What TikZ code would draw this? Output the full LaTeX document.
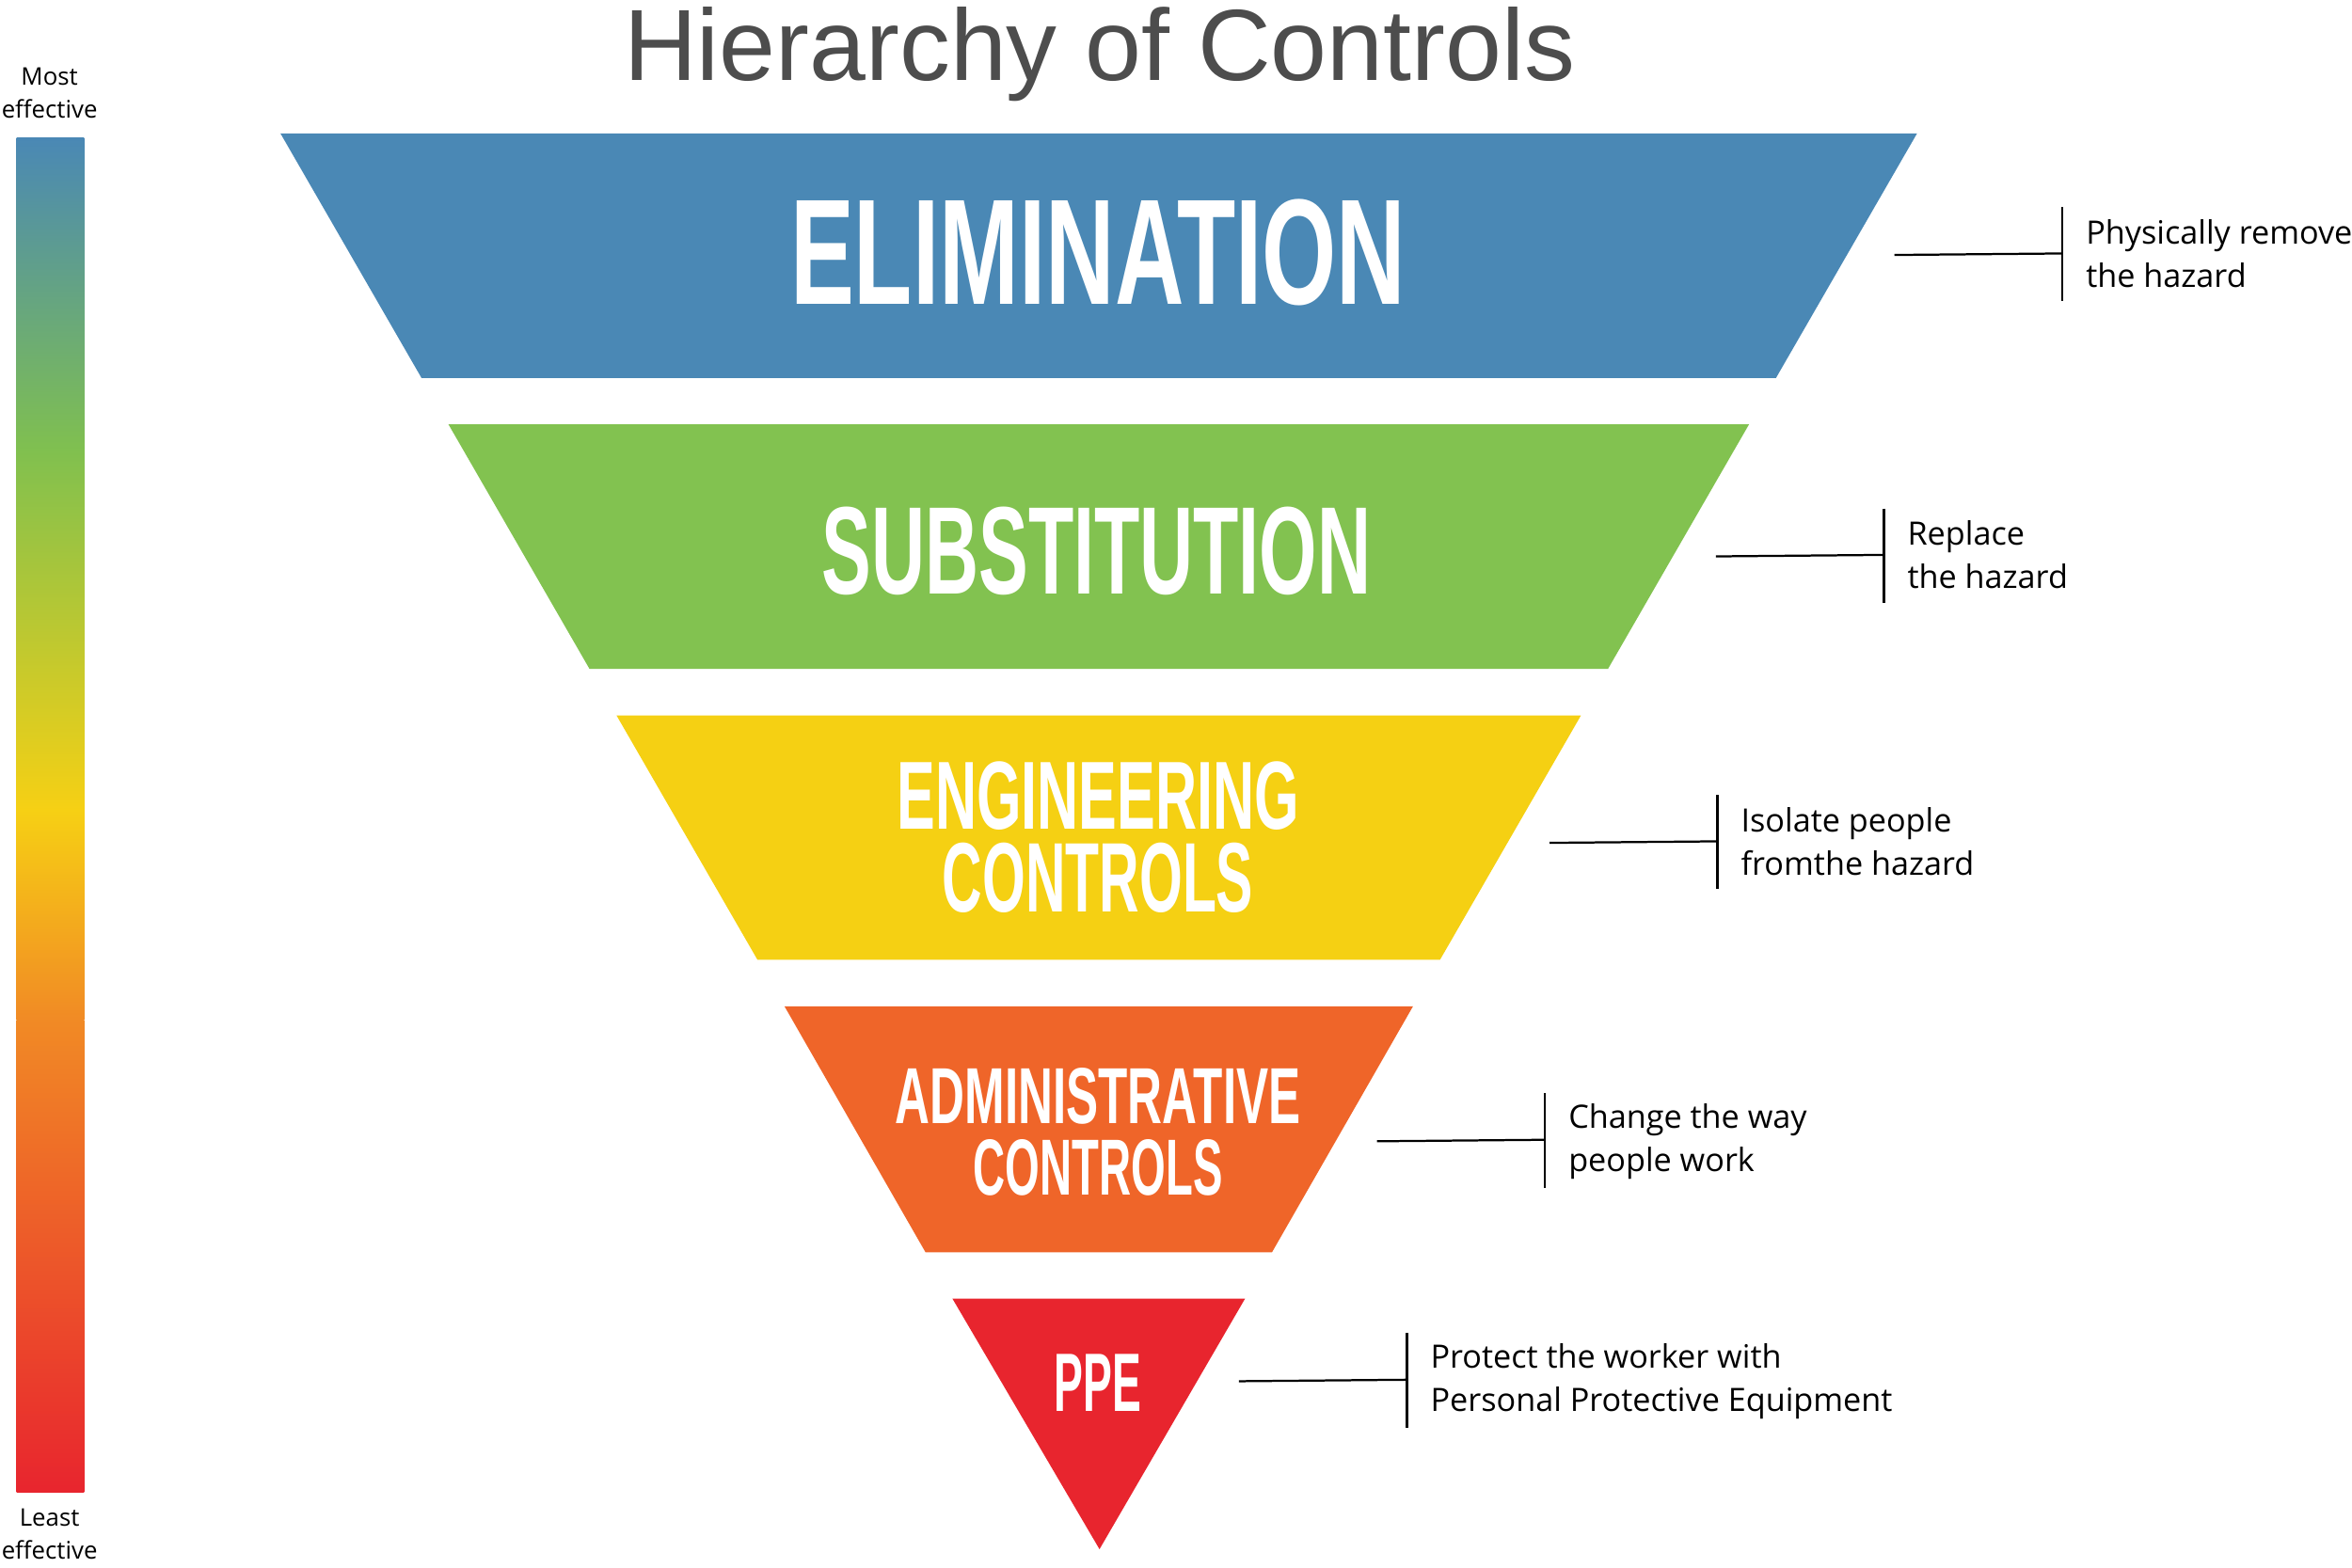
\documentclass[tikz,border=0pt]{standalone}
\usepackage{fontspec}
\setmainfont{Open Sans}
\newfontfamily\titlefont{Liberation Sans}
\newfontfamily\blockfont{Liberation Sans}
\definecolor{cElim}{HTML}{4A88B5}
\definecolor{cSub}{HTML}{82C250}
\definecolor{cEng}{HTML}{F5D013}
\definecolor{cAdm}{HTML}{EF6529}
\definecolor{cPPE}{HTML}{E8252E}
\definecolor{cTitle}{HTML}{4D4D4D}
\definecolor{gA}{HTML}{4A88B5}
\definecolor{gB}{HTML}{80C04F}
\definecolor{gC}{HTML}{F6D014}
\definecolor{gD}{HTML}{F18A25}
\definecolor{gE}{HTML}{E8252E}
\tikzset{
  blk/.style={inner sep=0pt,text=white,font=\blockfont\bfseries},
  desc/.style={anchor=west,align=left,font=\fontsize{6.1}{8.2}\selectfont,inner sep=0pt},
  tick/.style={line width=0.4pt,black}
}
\begin{document}
\begin{tikzpicture}[x=0.01cm,y=-0.01cm]
\useasboundingbox (0,0) rectangle (1568,1045);
% gradient bar
\shade[top color=gA,bottom color=gB] (11,92) rectangle (56,300.5);
\shade[top color=gB,bottom color=gC] (11,300) rectangle (56,540.5);
\shade[top color=gC,bottom color=gD] (11,540) rectangle (56,680.5);
\shade[top color=gD,bottom color=gE] (11,680) rectangle (56,995);
\node[align=center,font=\fontsize{4.6}{6.3}\selectfont] (most) at (33,62) {Most\\effective};
\node[align=center,font=\fontsize{4.6}{6.3}\selectfont] (least) at (33,1023) {Least\\effective};
% title
\node[text=cTitle,font=\titlefont\fontsize{19.2}{23}\selectfont] (title) at (733,36) {Hierarchy of Controls};
% trapezoids
\fill[cElim] (187,89) -- (1278,89) -- (1184,252) -- (281,252) -- cycle;
\fill[cSub] (299,283) -- (1166,283) -- (1072,446) -- (393,446) -- cycle;
\fill[cEng] (411,477) -- (1054,477) -- (960,640) -- (505,640) -- cycle;
\fill[cAdm] (523,671) -- (942,671) -- (848,835) -- (617,835) -- cycle;
\fill[cPPE] (635,866) -- (830,866) -- (733,1033) -- cycle;
% block labels
\node[blk,anchor=base] (elim) at (732,203) {\resizebox{4.1cm}{0.70cm}{ELIMINATION}};
\node[blk,anchor=base] (sub) at (731,396) {\resizebox{3.66cm}{0.58cm}{SUBSTITUTION}};
\node[blk,anchor=base] (eng1) at (732,553) {\resizebox{2.68cm}{0.45cm}{ENGINEERING}};
\node[blk,anchor=base] (eng2) at (732,608) {\resizebox{2.07cm}{0.46cm}{CONTROLS}};
\node[blk,anchor=base] (adm1) at (732,749) {\resizebox{2.70cm}{0.37cm}{ADMINISTRATIVE}};
\node[blk,anchor=base] (adm2) at (732,797) {\resizebox{1.66cm}{0.37cm}{CONTROLS}};
\node[blk,anchor=base] (ppe) at (732,941) {\resizebox{0.58cm}{0.38cm}{PPE}};
% connectors
\coordinate (e1) at (1263,170); \coordinate (e2) at (1375,169);
\draw[tick] (e1) -- (e2); \draw[tick] (1375,138) -- (1375,201);
\node[desc] (de) at (1390,169) {Physically remove\\the hazard};
\coordinate (s1) at (1144,371); \coordinate (s2) at (1256,370);
\draw[tick] (s1) -- (s2); \draw[tick] (1256,339) -- (1256,402);
\node[desc] (ds) at (1271,370) {Replace\\the hazard};
\coordinate (g1) at (1033,562); \coordinate (g2) at (1145,561);
\draw[tick] (g1) -- (g2); \draw[tick] (1145,530) -- (1145,593);
\node[desc] (dg) at (1160,561) {Isolate people\\fromthe hazard};
\coordinate (a1) at (918,761); \coordinate (a2) at (1030,760);
\draw[tick] (a1) -- (a2); \draw[tick] (1030,729) -- (1030,792);
\node[desc] (da) at (1045,761) {Change the way\\people work};
\coordinate (p1) at (826,921); \coordinate (p2) at (938,920);
\draw[tick] (p1) -- (p2); \draw[tick] (938,889) -- (938,952);
\node[desc] (dp) at (953,921) {Protect the worker with\\Personal Protective Equipment};
\end{tikzpicture}
\end{document}
